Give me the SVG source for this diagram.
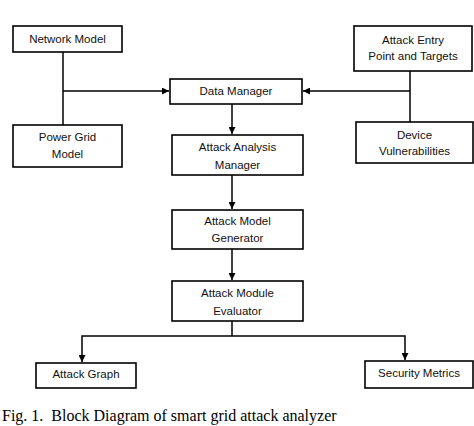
<svg xmlns="http://www.w3.org/2000/svg" width="474" height="426" viewBox="0 0 474 426">
<style>
.box{fill:#fff;stroke:#000;stroke-width:1.6}
.t{font-family:"Liberation Sans",Arial,sans-serif;font-size:11.5px;fill:#111;text-anchor:middle}
.c{fill:none;stroke:#000;stroke-width:1.5}
.cap{font-family:"Liberation Serif","Times New Roman",serif;font-size:16px;fill:#000}
</style>
<defs>
<marker id="ah" viewBox="0 0 10 10" refX="10" refY="5" markerWidth="7" markerHeight="7" markerUnits="userSpaceOnUse" orient="auto">
<path d="M0,0 L10,5 L0,10 z" fill="#000"/>
</marker>
</defs>
<g id="connectors">
<line class="c" x1="63" y1="52" x2="63" y2="125"/>
<line class="c" x1="63" y1="91" x2="169" y2="91" marker-end="url(#ah)"/>
<line class="c" x1="410" y1="71" x2="410" y2="122"/>
<line class="c" x1="410" y1="91" x2="303" y2="91" marker-end="url(#ah)"/>
<line class="c" x1="232" y1="104" x2="232" y2="134" marker-end="url(#ah)"/>
<line class="c" x1="232" y1="175" x2="232" y2="209" marker-end="url(#ah)"/>
<line class="c" x1="232" y1="249" x2="232" y2="280" marker-end="url(#ah)"/>
<line class="c" x1="232" y1="321" x2="232" y2="336"/>
<polyline class="c" points="232,336 82,336 82,362" marker-end="url(#ah)"/>
<polyline class="c" points="232,336 405,336 405,360" marker-end="url(#ah)"/>
</g>
<g id="network-model">
<rect class="box" x="13" y="26" width="109" height="26"/>
<text class="t" x="67.5" y="43">Network Model</text>
</g>
<g id="power-grid-model">
<rect class="box" x="13" y="125" width="109" height="42"/>
<text class="t" x="67.5" y="141">Power Grid</text>
<text class="t" x="67.5" y="158">Model</text>
</g>
<g id="attack-entry">
<rect class="box" x="354" y="26" width="118" height="45"/>
<text class="t" x="413" y="44">Attack Entry</text>
<text class="t" x="413" y="60">Point and Targets</text>
</g>
<g id="device-vulnerabilities">
<rect class="box" x="356" y="122" width="117" height="41"/>
<text class="t" x="414.5" y="139">Device</text>
<text class="t" x="414.5" y="155">Vulnerabilities</text>
</g>
<g id="data-manager">
<rect class="box" x="170" y="79" width="132" height="25"/>
<text class="t" x="236" y="95">Data Manager</text>
</g>
<g id="attack-analysis-manager">
<rect class="box" x="172" y="135" width="131" height="40"/>
<text class="t" x="237.5" y="151">Attack Analysis</text>
<text class="t" x="237.5" y="169">Manager</text>
</g>
<g id="attack-model-generator">
<rect class="box" x="172" y="210" width="131" height="39"/>
<text class="t" x="237.5" y="225">Attack Model</text>
<text class="t" x="237.5" y="242">Generator</text>
</g>
<g id="attack-module-evaluator">
<rect class="box" x="172" y="281" width="131" height="40"/>
<text class="t" x="237.5" y="297">Attack Module</text>
<text class="t" x="237.5" y="315">Evaluator</text>
</g>
<g id="attack-graph">
<rect class="box" x="36" y="363" width="100" height="25"/>
<text class="t" x="86" y="378">Attack Graph</text>
</g>
<g id="security-metrics">
<rect class="box" x="365" y="361" width="108" height="27"/>
<text class="t" x="419" y="377">Security Metrics</text>
</g>
<text class="cap" x="2" y="421" xml:space="preserve">Fig. 1.  Block Diagram of smart grid attack analyzer</text>
</svg>
